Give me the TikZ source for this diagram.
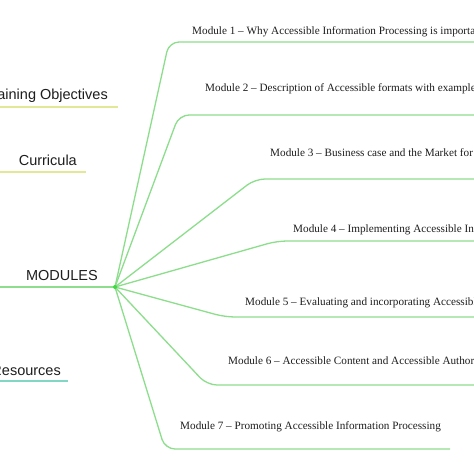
\documentclass[tikz,border=0pt]{standalone}
\usepackage{fontspec}
\setmainfont{Liberation Serif}
\setsansfont{Liberation Sans}
\usepackage{xcolor}
\usepackage{tikz}
\usetikzlibrary{positioning}

\definecolor{branchgreen}{RGB}{140,222,140}
\definecolor{hubgreen}{RGB}{60,220,60}
\definecolor{paleyellow}{RGB}{226,232,150}
\definecolor{paleteal}{RGB}{130,214,196}
\definecolor{textgray}{RGB}{30,30,30}

\begin{document}
\begin{tikzpicture}[
    x=1pt, y=-1pt,
    topic/.style={font=\sffamily\fontsize{14.5}{16}\selectfont, text=textgray, inner sep=0pt},
    module/.style={font=\rmfamily\fontsize{11.2}{13}\selectfont, text=textgray, anchor=west, inner sep=0pt},
    branch/.style={draw=branchgreen, line width=1.3pt, rounded corners=10pt},
    underline/.style={line width=1.3pt}
]
\useasboundingbox (0,0) rectangle (474,474);
\clip (0,0) rectangle (474,474);
\fill[white] (0,0) rectangle (474,474);

% left topics (cut off at the left edge, as in the source)
\node[topic, anchor=east] (objectives) at (108,96) {Training Objectives};
\node[topic, anchor=east] (curricula) at (77,160.5) {Curricula};
\node[topic, anchor=east] (modules) at (98,275.5) {MODULES};
\node[topic, anchor=east] (resources) at (61,371) {Resources};

\coordinate (hub) at (115,287);
\coordinate (objl) at (0,107);
\coordinate (objr) at (118,107);
\coordinate (curl) at (0,172);
\coordinate (curr) at (86,172);
\coordinate (modl) at (0,287);
\coordinate (resl) at (0,381);
\coordinate (resr) at (68,381);

\draw[underline, draw=paleyellow] (objl) -- (objr);
\draw[underline, draw=paleyellow] (curl) -- (curr);
\draw[underline, draw=branchgreen] (modl) -- (hub);
\draw[underline, draw=paleteal] (resl) -- (resr);

% modules (cut off at the right edge, as in the source)
\node[module] (m1) at (192,32) {Module 1 -- Why Accessible Information Processing is important};
\node[module] (m2) at (205,89) {Module 2 -- Description of Accessible formats with examples};
\node[module] (m3) at (270,153) {Module 3 -- Business case and the Market for};
\node[module] (m4) at (293,230) {Module 4 -- Implementing Accessible Information};
\node[module] (m5) at (245,303) {Module 5 -- Evaluating and incorporating Accessible};
\node[module] (m6) at (228,362) {Module 6 -- Accessible Content and Accessible Authoring};
\node[module] (m7) at (180,427) {Module 7 -- Promoting Accessible Information Processing};

\coordinate (e1) at (474,42);
\coordinate (e2) at (474,115);
\coordinate (e3) at (474,179);
\coordinate (e4) at (474,241);
\coordinate (e5) at (474,317);
\coordinate (e6) at (474,385);
\coordinate (e7) at (450,449);

\draw[branch] (hub) -- (169,42) -- (e1);
\draw[branch] (hub) -- (179,115) -- (e2);
\draw[branch] (hub) -- (255,179) -- (e3);
\draw[branch] (hub) -- (277,241) -- (e4);
\draw[branch] (hub) -- (225,317) -- (e5);
\draw[branch] (hub) -- (207,385) -- (e6);
\draw[branch] (hub) -- (165,449) -- (e7);

\fill[hubgreen] (hub) circle (2pt);
\end{tikzpicture}
\end{document}
